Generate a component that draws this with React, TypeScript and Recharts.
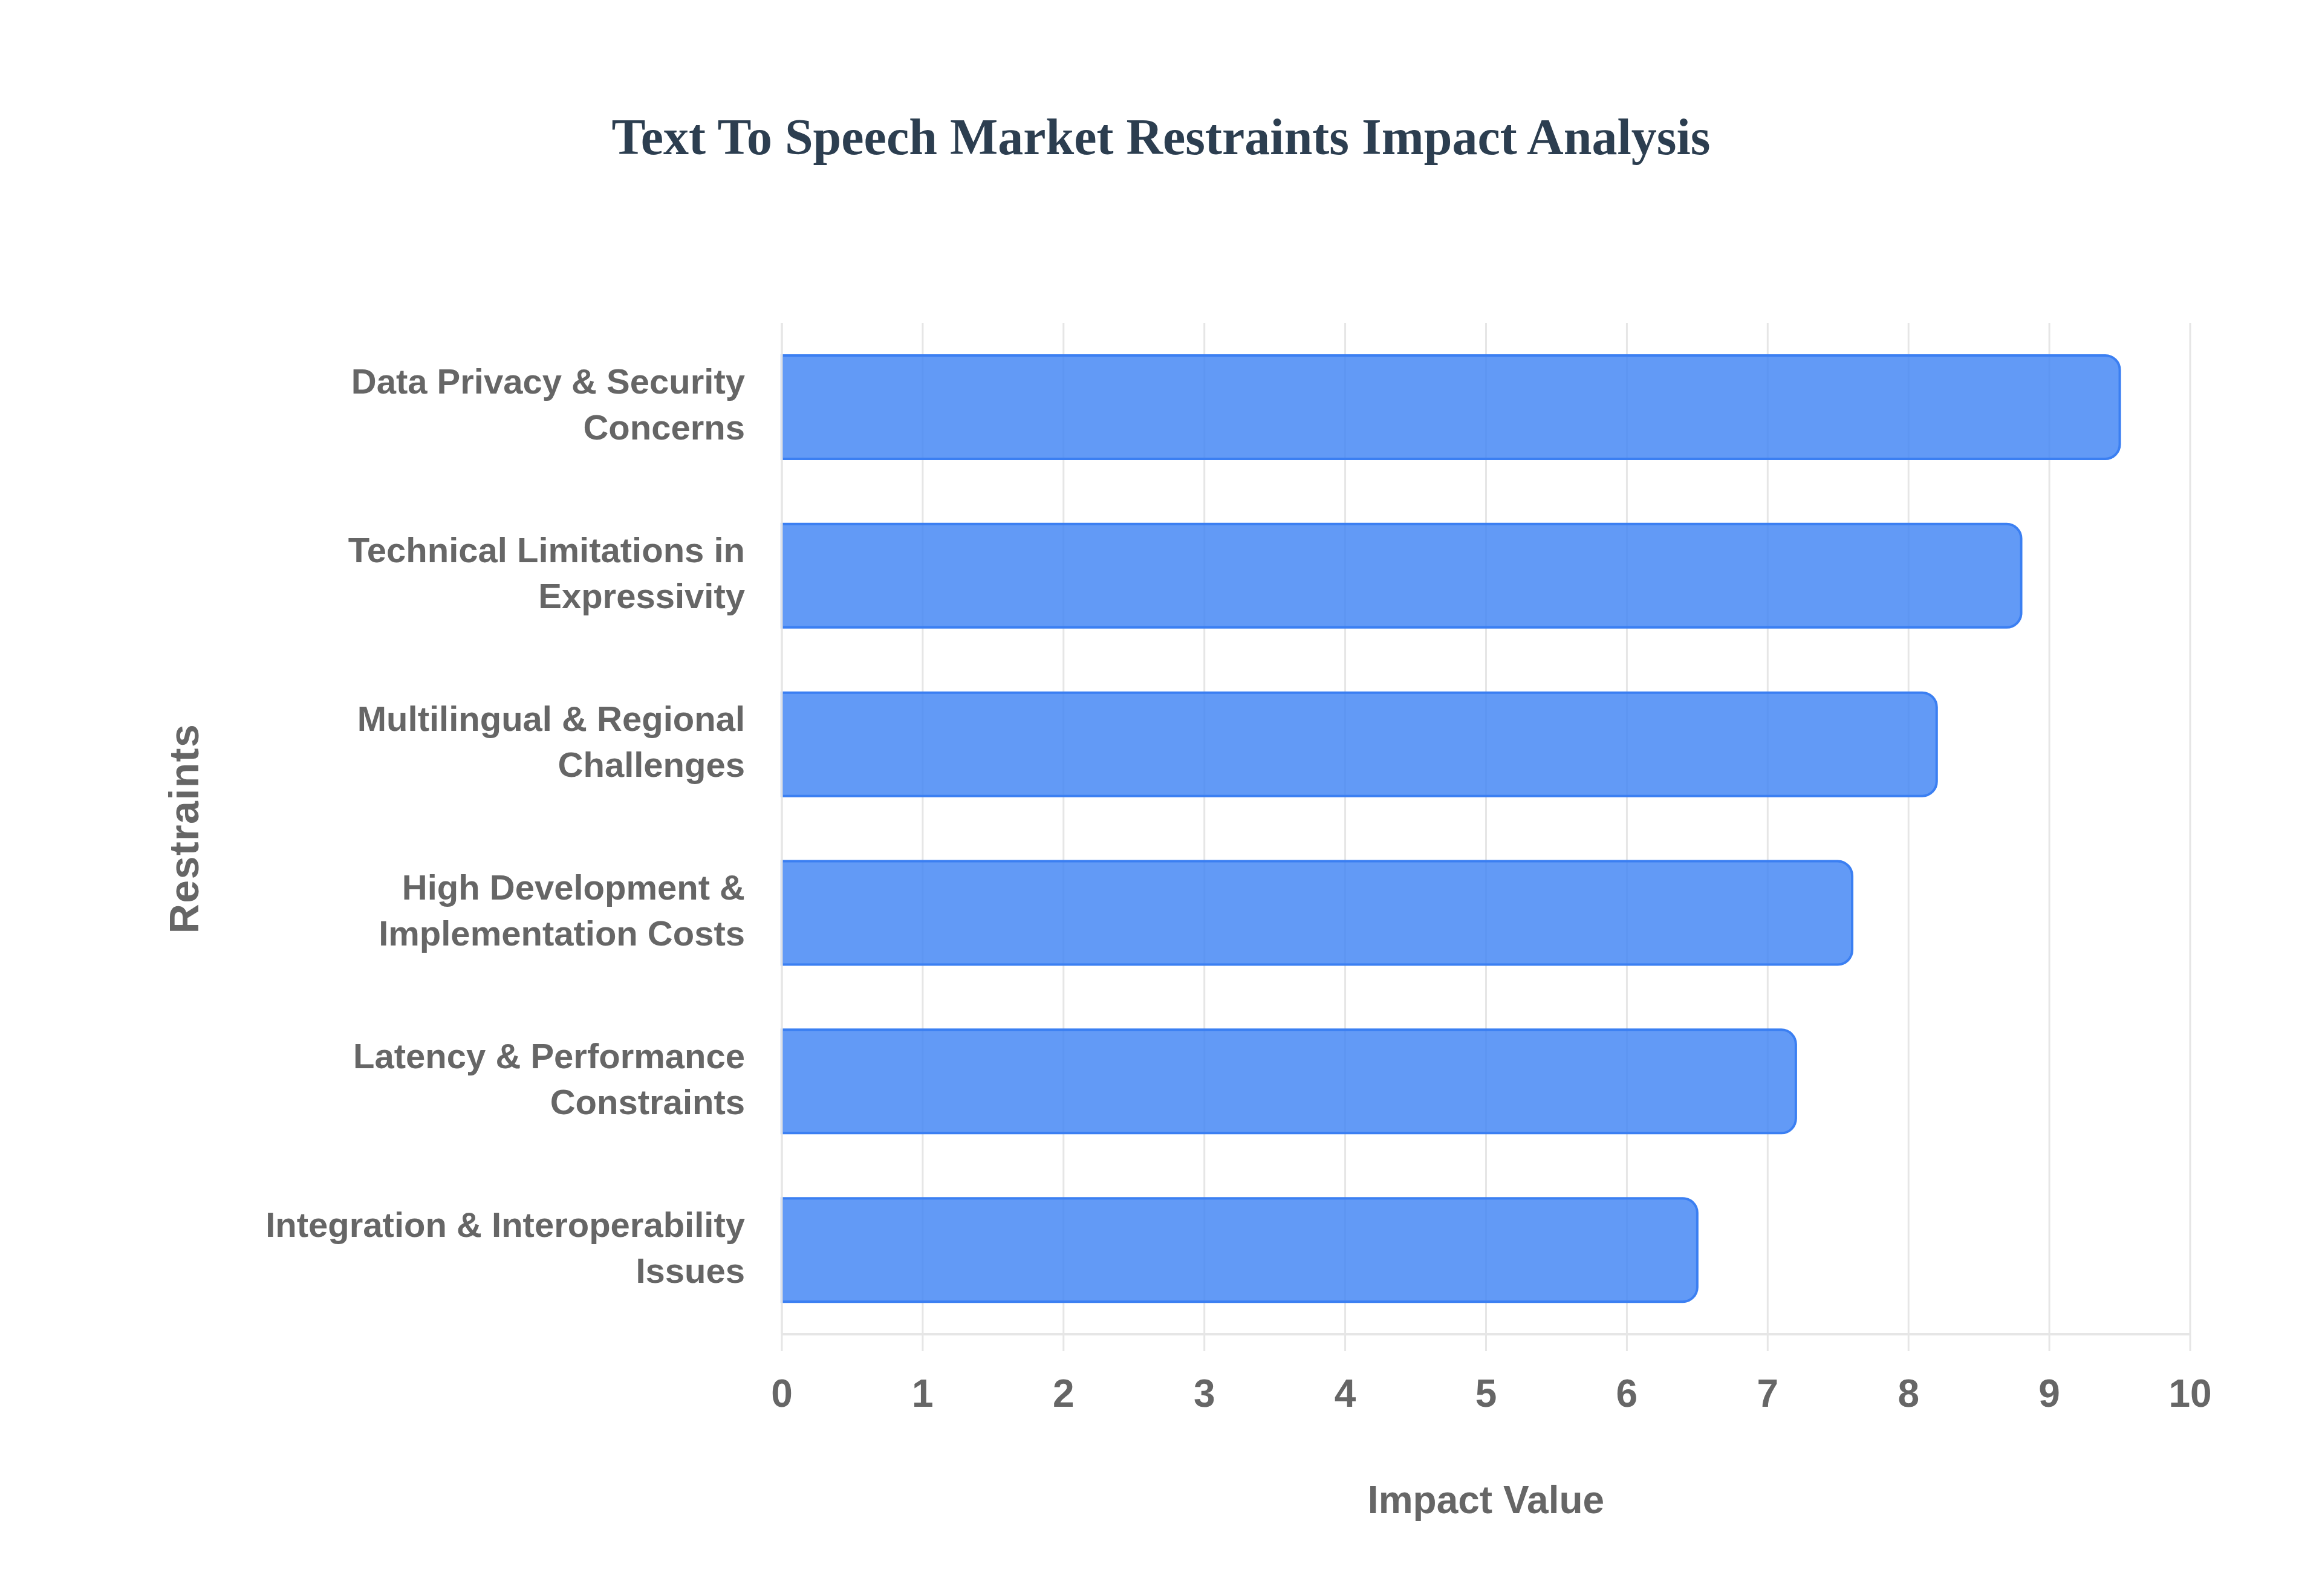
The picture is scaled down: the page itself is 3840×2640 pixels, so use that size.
import { BarChart, Bar, XAxis, YAxis, CartesianGrid, Label } from "recharts";

const restraints = [
  "Data Privacy & Security Concerns",
  "Technical Limitations in Expressivity",
  "Multilingual & Regional Challenges",
  "High Development & Implementation Costs",
  "Latency & Performance Constraints",
  "Integration & Interoperability Issues",
];

// how each category name wraps on the axis
const restraintLines = [
  ["Data Privacy & Security", "Concerns"],
  ["Technical Limitations in", "Expressivity"],
  ["Multilingual & Regional", "Challenges"],
  ["High Development &", "Implementation Costs"],
  ["Latency & Performance", "Constraints"],
  ["Integration & Interoperability", "Issues"],
];

const impactValues = [9.5, 8.8, 8.2, 7.6, 7.2, 6.5];

const impactTicks = [0, 1, 2, 3, 4, 5, 6, 7, 8, 9, 10];

const data = restraints.map((name, i) => ({ name, impact: impactValues[i] }));

const SANS = "'Liberation Sans', Arial, sans-serif";
const GREY = "#666666";
const GRID = "#e6e6e6";

function RestraintTick(props: any) {
  const { x, y, payload } = props;
  const idx = restraints.indexOf(payload.value);
  const lines = restraintLines[idx] ?? [payload.value];
  const step = 76;
  const start = -((lines.length - 1) * step) / 2 - 5;
  return (
    <text
      x={x}
      y={y}
      textAnchor="end"
      fill={GREY}
      fontSize={58}
      fontWeight={700}
      fontFamily={SANS}
      dominantBaseline="central"
    >
      {lines.map((l: string, i: number) => (
        <tspan key={i} x={x} y={y + start + i * step}>
          {l}
        </tspan>
      ))}
    </text>
  );
}

function YTitle(props: any) {
  const vb = props.viewBox;
  const cx = vb.x + 296;
  const cy = vb.y + vb.height / 2;
  return (
    <text
      x={cx}
      y={cy}
      transform={`rotate(-90 ${cx} ${cy})`}
      textAnchor="middle"
      dominantBaseline="central"
      fill={GREY}
      fontSize={68}
      fontWeight={700}
      fontFamily={SANS}
      letterSpacing={1.5}
    >
      Restraints
    </text>
  );
}

function XTitle(props: any) {
  const vb = props.viewBox;
  const cx = vb.x + vb.width / 2;
  const cy = vb.y + 274;
  return (
    <text
      x={cx}
      y={cy}
      textAnchor="middle"
      dominantBaseline="central"
      fill={GREY}
      fontSize={64}
      fontWeight={700}
      fontFamily={SANS}
    >
      Impact Value
    </text>
  );
}

export default function App() {
  return (
    <div style={{ position: "relative", width: 3824, height: 2620, background: "#fff" }}>
      <div
        style={{
          position: "absolute",
          top: 177,
          left: 0,
          width: 3824,
          textAlign: "center",
          fontFamily: "'Liberation Serif', 'Times New Roman', serif",
          fontWeight: 700,
          fontSize: 84,
          lineHeight: 1,
          color: "#2c3e50",
        }}
      >
        Text To Speech Market Restraints Impact Analysis
      </div>
      <BarChart
        width={3824}
        height={2620}
        data={data}
        layout="vertical"
        margin={{ top: 526, right: 210, bottom: 0, left: 0 }}
      >
        <CartesianGrid horizontal={false} stroke={GRID} strokeWidth={3} />
        <XAxis
          type="number"
          domain={[0, 10]}
          ticks={impactTicks}
          interval={0}
          height={421}
          axisLine={{ stroke: GRID, strokeWidth: 4 }}
          tickLine={{ stroke: GRID, strokeWidth: 3 }}
          tickSize={28}
          tickMargin={47}
          tick={{ fill: GREY, fontSize: 64, fontWeight: 700, fontFamily: SANS }}
        >
          <Label content={<XTitle />} />
        </XAxis>
        <YAxis
          type="category"
          dataKey="name"
          width={1285}
          axisLine={{ stroke: GRID, strokeWidth: 3 }}
          tickLine={false}
          tickSize={0}
          tickMargin={61}
          interval={0}
          tick={<RestraintTick />}
        >
          <Label content={<YTitle />} />
        </YAxis>
        <Bar
          dataKey="impact"
          barSize={171}
          fill="#4285F4"
          fillOpacity={0.83}
          stroke="#3b7ff2"
          strokeWidth={4}
          radius={[0, 24, 24, 0]}
          isAnimationActive={false}
        />
      </BarChart>
    </div>
  );
}
